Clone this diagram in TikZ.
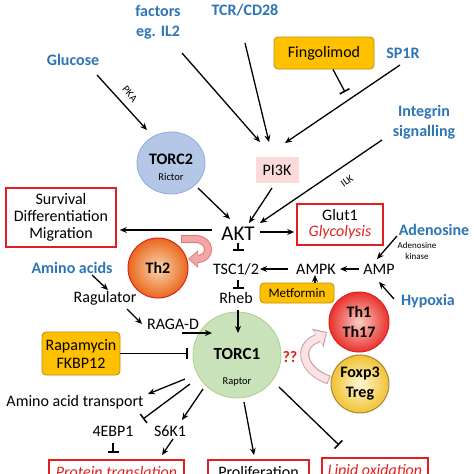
\documentclass[tikz,border=0pt]{standalone}
\usepackage{fontspec}
\setmainfont{Carlito}
\usetikzlibrary{arrows.meta,calc,shapes.geometric}
\definecolor{bl}{HTML}{2E75B6}
\definecolor{rr}{HTML}{E02020}
\definecolor{orF}{HTML}{FFC000}
\definecolor{orD}{HTML}{B8900A}
\definecolor{pk}{HTML}{FADBDA}
\definecolor{t2F}{HTML}{B4C7E7}
\definecolor{t2D}{HTML}{8FAADC}
\definecolor{t1F}{HTML}{C9E2BA}
\definecolor{t1D}{HTML}{A9D18E}
\definecolor{hookF}{HTML}{F4A6A6}
\definecolor{hookD}{HTML}{E07878}
\definecolor{hpF}{HTML}{FCE2E2}
\definecolor{hpD}{HTML}{C898A2}
\begin{document}
\begin{tikzpicture}[x=1pt,y=-1pt,
  font=\fontsize{16}{17}\selectfont,
  every node/.style={inner sep=1pt},
  lbl/.style={font=\bfseries\fontsize{16}{20}\selectfont, text=bl, align=center},
  redbox/.style={draw=rr, line width=1.6pt, align=center, inner sep=0pt},
  orbox/.style={draw=orD, fill=orF, rounded corners=4pt, line width=0.8pt, align=center},
  arr/.style={-{Stealth[length=7pt,width=6pt]}, line width=1.3pt},
  inh/.style={-{Bar[width=11pt,line width=1.6pt]}, line width=1.3pt},
  small/.style={font=\fontsize{10.5}{11}\selectfont},
  tiny/.style={font=\fontsize{10.5}{11}\selectfont},
  cell/.style={circle, line width=1pt, align=center, shading=radial, font=\bfseries\fontsize{16}{20}\selectfont},
  botbox/.style={redbox, anchor=north, inner ysep=7pt, text height=11pt, text depth=22pt}
]
\useasboundingbox (0,0) rectangle (474,474);
\clip (0,0) rectangle (474,474);

% ---- nodes ----
\node[lbl] (fac) at (158,22) {factors\\eg. IL2};
\node[lbl] (tcr) at (245,10) {TCR/CD28};
\node[lbl] (glu) at (73,60) {Glucose};
\node[orbox, minimum width=100pt, minimum height=32pt] (fing) at (324,53) {Fingolimod};
\node[lbl] (sp1r) at (403,53) {SP1R};
\node[lbl] (integ) at (424,122) {Integrin\\signalling};
\node[fill=pk, minimum width=43pt, minimum height=26pt] (pi3k) at (277,170) {PI3K};
\node[ellipse, fill=t2F, draw=t2D, line width=0.8pt, minimum width=68pt, minimum height=62pt] (torc2) at (171,163) {};
\node[font=\bfseries\fontsize{16}{17}\selectfont] (torc2t) at (171,159) {TORC2};
\node[small] (torc2s) at (171,177) {Rictor};
\node[font=\fontsize{21}{22}\selectfont] (akt) at (238,234) {AKT};
\node[redbox, minimum width=110pt, minimum height=59pt, font=\fontsize{16}{16.7}\selectfont] (surv) at (61,217.5) {Survival\\Differentiation\\Migration};
\node[redbox, minimum width=86pt, minimum height=41pt, font=\fontsize{16}{16}\selectfont] (glut) at (340,224.5) {Glut1\\\textcolor{rr}{\itshape Glycolysis}};
\node[lbl] (aden) at (434,230) {Adenosine};
\node[font=\fontsize{9}{11}\selectfont, align=center] (adk) at (417,251) {Adenosine\\kinase};
\node (amp) at (379,269) {AMP};
\node (ampk) at (316,269) {AMPK};
\node (tsc) at (236,269) {TSC1/2};
\node (rheb) at (236,298) {Rheb};
\node[orbox, minimum width=74pt, minimum height=20pt, font=\fontsize{13}{13}\selectfont] (metf) at (297,293) {Metformin};
\node[lbl] (hyp) at (428,301) {Hypoxia};
\node[cell, draw=rr, minimum size=60pt, inner color={rgb,255:red,252;green,214;blue,178}, outer color={rgb,255:red,232;green,104;blue,28}] (th2) at (158,268) {Th2};
\node[lbl] (aa) at (72,268) {Amino acids};
\node (rag) at (105,298) {Ragulator};
\node (raga) at (173,324) {RAGA-D};
\node[ellipse, fill=t1F, draw=t1D, line width=0.8pt, minimum width=88pt, minimum height=86pt] (torc1) at (237,355) {};
\node[font=\bfseries\fontsize{17}{18}\selectfont] (torc1t) at (237,354) {TORC1};
\node[small] (torc1s) at (237,382) {Raptor};
\node[orbox, minimum width=78pt, minimum height=43pt, font=\fontsize{16}{18}\selectfont] (rapa) at (81,353.5) {Rapamycin\\FKBP12};
\node[text=rr, font=\bfseries\fontsize{16}{17}\selectfont] (qq) at (290,357) {??};
\node[cell, draw=rr, minimum size=60pt, inner color={rgb,255:red,250;green,205;blue,195}, outer color={rgb,255:red,232;green,50;blue,45}] (th1) at (359,322) {Th1\\Th17};
\node[cell, draw={rgb,255:red,160;green,136;blue,72}, minimum size=58pt, inner color={rgb,255:red,255;green,247;blue,215}, outer color={rgb,255:red,242;green,194;blue,48}] (fox) at (360,384) {Foxp3\\Treg};
\node (aat) at (75,402) {Amino acid transport};
\node (ebp) at (113,431) {4EBP1};
\node (s6k) at (170,431) {S6K1};
\node[botbox, minimum width=135pt, text=rr, font=\itshape\fontsize{16}{17}\selectfont] (prot) at (116.5,459) {Protein translation};
\node[botbox, minimum width=101pt] (prolif) at (258.5,459) {Proliferation};
\node[botbox, minimum width=106pt, text=rr, font=\itshape\fontsize{16}{17}\selectfont] (lipid) at (375,457) {Lipid oxidation};
\node[tiny, rotate=-50] (pka) at (130,94) {PKA};
\node[tiny, rotate=36] (ilk) at (347,181) {ILK};

\coordinate (fb) at (345,92);

% ---- pink curved arrows ----
\draw[line width=8pt, hookD, -{Triangle[length=10pt,width=17pt]}] (181,239) -- (195,239) .. controls (212,239) and (212,259) .. (197,259) -- (188,259);
\draw[line width=6pt, hookF, -{Triangle[length=8.5pt,width=14pt]}, shorten >=1.2pt, shorten <=1pt] (181,239) -- (195,239) .. controls (212,239) and (212,259) .. (197,259) -- (188,259);
\draw[line width=9pt, hpD, -{Triangle[length=11pt,width=21pt]}] (329,380) .. controls (301,370) and (298,346) .. (316,339) -- (327,332);
\draw[line width=7pt, hpF, -{Triangle[length=9.5pt,width=17pt]}, shorten >=1.3pt, shorten <=1pt] (329,380) .. controls (301,370) and (298,346) .. (316,339) -- (327,332);

% ---- connectors ----
\draw[arr] ($(glu)+(24,15)$) -- ($(torc2)+(-24,-33)$);
\draw[arr] ($(fac)+(24,31)$) -- ($(pi3k)+(-17,-28)$);
\draw[arr] ($(tcr)+(0,33)$) -- ($(pi3k)+(-8,-28)$);
\draw[arr] ($(sp1r)+(-3,12)$) -- ($(pi3k)+(8,-27)$);
\draw[inh] ($(fing.south)+(9,0)$) -- (fb);
\draw[arr] ($(integ)+(-42,18)$) -- ($(akt)+(22,-11)$);
\draw[arr] ($(pi3k)+(-5,18)$) -- ($(akt)+(11,-11)$);
\draw[arr] ($(torc2)+(27,25)$) -- ($(akt)+(-8,-15)$);
\draw[arr] ($(akt)+(-26,-4)$) -- ($(surv.east)+(3,12.5)$);
\draw[arr] ($(akt)+(22,-2)$) -- ($(glut.west)+(-2,7.5)$);
\draw[arr] ($(aden)+(-37,6)$) -- ($(amp)+(-2,-10)$);
\draw[arr] ($(amp)+(-20,0)$) -- ($(ampk)+(24,0)$);
\draw[arr] ($(ampk)+(-28,0)$) -- ($(tsc)+(24,0)$);
\draw[inh] ($(akt)+(0,9)$) -- ($(tsc)+(2,-18)$);
\draw[inh] ($(tsc)+(2,11)$) -- ($(rheb)+(2,-9)$);
\draw[arr] ($(rheb)+(2,12)$) -- ($(torc1)+(1,-22)$);
\draw[arr] ($(metf.north)+(18,0)$) -- ($(ampk)+(-1,6)$);
\draw[arr] ($(hyp)+(-34,-2)$) -- ($(amp)+(0,13)$);
\draw[arr] ($(aa)+(20,7)$) -- ($(rag)+(3,-8)$);
\draw[arr] ($(rag)+(22,11)$) -- ($(raga)+(-31,0)$);
\draw[arr] ($(raga)+(9,9)$) -- ($(torc1)+(-25,-22)$);
\draw[inh] (rapa.east) -- ($(torc1)+(-49,-1.5)$);
\draw[arr] ($(torc1)+(-52,24)$) -- ($(aat)+(73,-8)$);
\draw[inh] ($(torc1)+(-47,29)$) -- ($(ebp)+(30,-12)$);
\draw[arr] ($(torc1)+(-34,34)$) -- ($(s6k)+(12,-11)$);
\draw[arr] ($(torc1)+(7,47)$) -- ($(prolif.north)+(-4.5,-4)$);
\draw[inh] ($(torc1)+(42,32)$) -- ($(lipid.north)+(-36,-12)$);
\draw[inh] ($(ebp)+(0,12)$) -- ($(prot.north)+(-3.5,-6)$);
\draw[arr] ($(s6k)+(3,8)$) -- ($(prot.north)+(45.5,-4)$);
\end{tikzpicture}
\end{document}
